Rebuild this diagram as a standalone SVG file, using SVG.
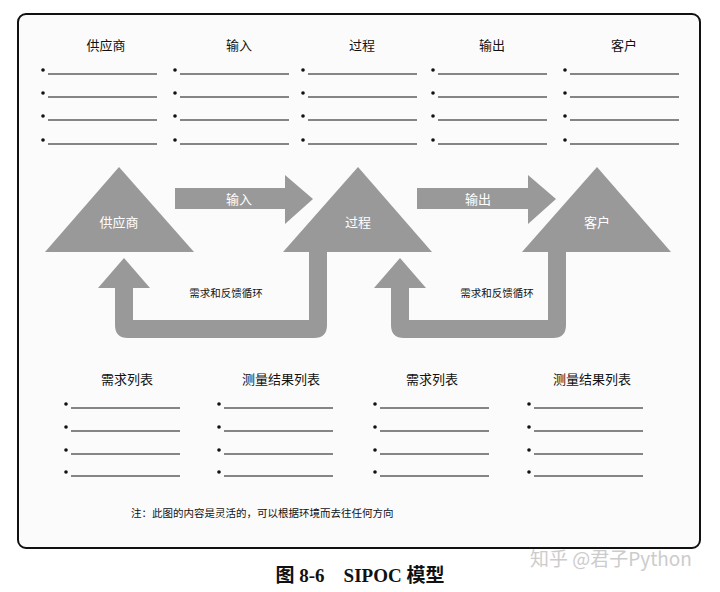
<svg xmlns="http://www.w3.org/2000/svg" width="720" height="592" viewBox="0 0 720 592">
<style>
.h{font-family:"Noto Sans CJK SC",sans-serif;font-size:13px;fill:#111;text-anchor:middle}
.w{font-family:"Noto Sans CJK SC",sans-serif;font-size:13px;fill:#fff;text-anchor:middle}
.s{font-family:"Noto Sans CJK SC",sans-serif;font-size:10.5px;fill:#111}
.ln{stroke:#111;stroke-width:1.2}
.g{fill:#999}
</style>
<defs>
<g id="top"><circle cx="0" cy="0" r="1.8" fill="#111"/><line class="ln" x1="5" y1="4" x2="114" y2="4"/></g>
</defs>
<rect width="720" height="592" fill="#fff"/>
<rect x="18" y="14" width="682" height="534" rx="8" fill="#fbfbfb" stroke="#111" stroke-width="2"/>
<g id="lists-top">
<text class="h" x="106" y="50">供应商</text><text class="h" x="239" y="50">输入</text><text class="h" x="362" y="50">过程</text><text class="h" x="492" y="50">输出</text><text class="h" x="624" y="50">客户</text>
<g id="c1"><use href="#top" x="43" y="70"/><use href="#top" x="43" y="93"/><use href="#top" x="43" y="116"/><use href="#top" x="43" y="140"/></g>
<g id="c2"><use href="#top" x="175" y="70"/><use href="#top" x="175" y="93"/><use href="#top" x="175" y="116"/><use href="#top" x="175" y="140"/></g>
<g id="c3"><use href="#top" x="303" y="70"/><use href="#top" x="303" y="93"/><use href="#top" x="303" y="116"/><use href="#top" x="303" y="140"/></g>
<g id="c4"><use href="#top" x="433" y="70"/><use href="#top" x="433" y="93"/><use href="#top" x="433" y="116"/><use href="#top" x="433" y="140"/></g>
<g id="c5"><use href="#top" x="565" y="70"/><use href="#top" x="565" y="93"/><use href="#top" x="565" y="116"/><use href="#top" x="565" y="140"/></g>
</g>
<g id="connectors">
<path class="g" d="M175 188H285V175L313 199L285 224V209H175Z"/>
<path class="g" d="M417 188H528V175L556 199L528 224V209H417Z"/>
<path class="g" d="M309 252H327V325Q327 338 314 338H128Q115 338 115 325V288H98L124 258L150 288H133V320H309Z"/>
<path class="g" d="M548 252H566V325Q566 338 553 338H404Q391 338 391 325V288H374L400 258L426 288H409V320H548Z"/>
<text class="s" x="226" y="297" text-anchor="middle">需求和反馈循环</text>
<text class="s" x="497" y="297" text-anchor="middle">需求和反馈循环</text>
<text class="w" x="239" y="204">输入</text>
<text class="w" x="478" y="204">输出</text>
</g>
<g id="supplier"><path class="g" d="M119 167L194 252H45Z"/><text class="w" x="119" y="227">供应商</text></g>
<g id="process"><path class="g" d="M358 167L432 252H283Z"/><text class="w" x="358" y="227">过程</text></g>
<g id="customer"><path class="g" d="M597 167L671 252H522Z"/><text class="w" x="597" y="227">客户</text></g>
<g id="lists-bottom">
<text class="h" x="127" y="384">需求列表</text><text class="h" x="281" y="384">测量结果列表</text><text class="h" x="432" y="384">需求列表</text><text class="h" x="592" y="384">测量结果列表</text>
<g><use href="#top" x="66" y="404"/><use href="#top" x="66" y="427"/><use href="#top" x="66" y="450"/><use href="#top" x="66" y="472"/></g>
<g><use href="#top" x="219" y="404"/><use href="#top" x="219" y="427"/><use href="#top" x="219" y="450"/><use href="#top" x="219" y="472"/></g>
<g><use href="#top" x="375" y="404"/><use href="#top" x="375" y="427"/><use href="#top" x="375" y="450"/><use href="#top" x="375" y="472"/></g>
<g><use href="#top" x="529" y="404"/><use href="#top" x="529" y="427"/><use href="#top" x="529" y="450"/><use href="#top" x="529" y="472"/></g>
</g>
<text class="s" x="131" y="517">注：此图的内容是灵活的，可以根据环境而去往任何方向</text>
<text x="360" y="582" text-anchor="middle" font-family="'Liberation Serif','Noto Sans CJK SC',serif" font-weight="bold" font-size="19" fill="#111">图 8-6　SIPOC 模型</text>
<text x="530" y="566" font-family="'Noto Sans CJK SC',sans-serif" font-size="19" fill="#ccc">知乎 @君子Python</text>
</svg>
